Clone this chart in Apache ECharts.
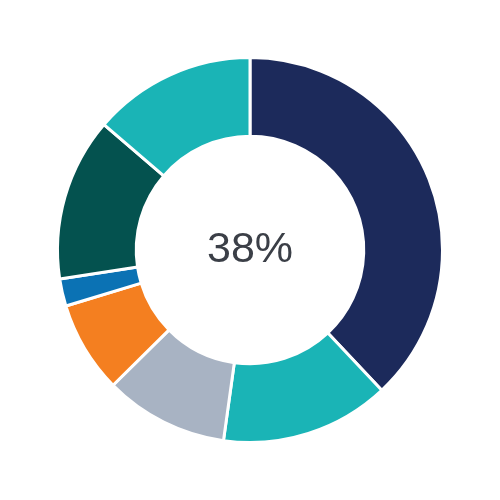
<!DOCTYPE html>
<html>
<head>
<meta charset="utf-8">
<script src="https://cdn.jsdelivr.net/npm/echarts@6/dist/echarts.min.js"></script>
<style>
  html, body { margin: 0; padding: 0; background: #fff; }
  #chart { width: 500px; height: 500px; }
</style>
</head>
<body>
<div id="chart"></div>
<script>
var shares = [38, 14.2, 10.4, 7.7, 2.3, 13.7, 13.7];
var colors = ['#1c2a5b', '#1ab4b6', '#a8b3c3', '#f47f20', '#0b72b4', '#04524f', '#1ab4b6'];
var centerLabel = '38%';

var chart = echarts.init(document.getElementById('chart'));

var data = shares.map(function (v, i) {
    return { value: v, itemStyle: { color: colors[i] } };
});

chart.setOption({
    animation: false,
    title: {
        text: centerLabel,
        left: 'center',
        top: 'middle',
        textStyle: {
            fontFamily: 'Arial, Liberation Sans, sans-serif',
            fontSize: 43,
            fontWeight: 'normal',
            color: '#3b3f47'
        }
    },
    series: [
        {
            type: 'pie',
            center: ['50%', '50%'],
            radius: ['45.5%', '77%'],
            startAngle: 90,
            clockwise: true,
            label: { show: false },
            labelLine: { show: false },
            itemStyle: { borderColor: '#fff', borderWidth: 3 },
            emphasis: { disabled: true },
            data: data
        }
    ]
});
</script>
</body>
</html>
